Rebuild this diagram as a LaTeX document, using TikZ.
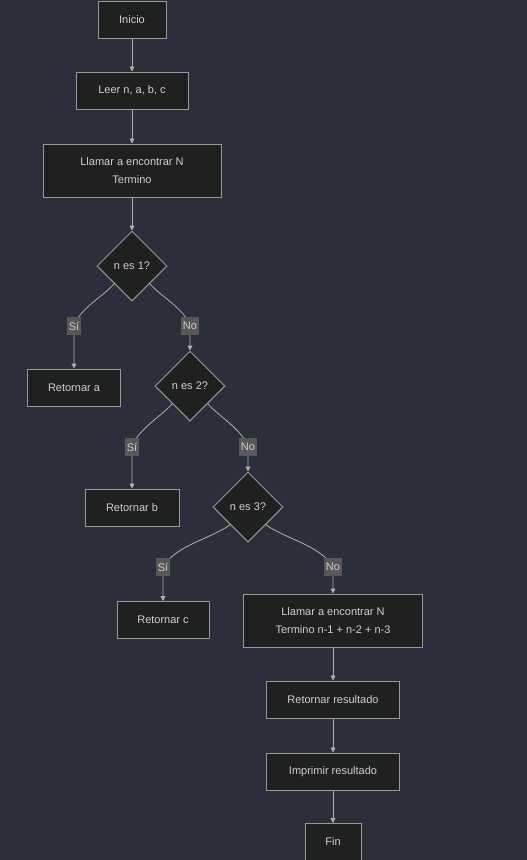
\documentclass[tikz,border=0pt]{standalone}
\usepackage{fontspec}
\setmainfont{Liberation Sans}
\usepackage{xcolor}
\usetikzlibrary{arrows.meta}
\usetikzlibrary{shapes.geometric}

\definecolor{fondo}{HTML}{2A2F3B}
\definecolor{relleno}{HTML}{1F2020}
\definecolor{borde}{HTML}{9A9A9A}
\definecolor{letra}{HTML}{D0D0D0}
\definecolor{linea}{HTML}{B0B0B0}
\definecolor{etiq}{HTML}{585858}

\begin{document}
\begin{tikzpicture}[x=1pt,y=-1pt]

\tikzset{
    caja/.style = {
    draw=borde, line width=1pt, fill=relleno, text=letra,
    minimum height=37pt, inner sep=0pt, align=center,
    font=\fontsize{11}{18}\selectfont
    }
}

\tikzstyle{decision}=[caja, diamond, minimum width=70pt, minimum height=70pt]
\tikzstyle{etiqueta}=[fill=etiq, text=letra, inner xsep=1.5pt, inner ysep=0pt, minimum height=18pt, font=\fontsize{11}{13}\selectfont]
\tikzstyle{flecha}=[draw=linea, line width=0.8pt, -{Triangle[length=5pt,width=5pt]}]

\fill[fondo] (0,0) rectangle (527,860);
\useasboundingbox (0,0) rectangle (527,860);

\node (inicio) [caja, minimum width=68pt] at (132,19.5) {Inicio};
\node (leer) [caja, minimum width=112pt] at (132,90.5) {Leer n, a, b, c};
\node (llamar1) [caja, minimum width=178pt, minimum height=53pt] at (132,170.5) {Llamar a encontrar N\\Termino};

\node (d1) [decision] at (132,266) {n es 1?};
\node (reta) [caja, minimum width=93pt] at (74,387.5) {Retornar a};
\node (d2) [decision] at (190,386) {n es 2?};
\node (retb) [caja, minimum width=94pt] at (132,507.5) {Retornar b};
\node (d3) [decision] at (248,507) {n es 3?};
\node (retc) [caja, minimum width=92pt] at (163,620) {Retornar c};
\node (llamar2) [caja, minimum width=179pt, minimum height=53pt] at (333,620.5) {Llamar a encontrar N\\Termino n-1 + n-2 + n-3};
\node (retres) [caja, minimum width=133pt] at (333,699.5) {Retornar resultado};
\node (imprimir) [caja, minimum width=133pt] at (333,771.5) {Imprimir resultado};
\node (fin) [caja, minimum width=56pt] at (333,842) {Fin};

\coordinate (si1) at (74,326);
\coordinate (no1) at (190,326);
\coordinate (si2) at (132,447);
\coordinate (no2) at (248,447);
\coordinate (si3) at (163,567);
\coordinate (no3) at (333,567);

\draw[flecha] (inicio) -- (leer);
\draw[flecha] (leer) -- (llamar1);
\draw[flecha] (llamar1) -- (d1);

\draw[flecha] (d1.south west) to[out=-132, in=72, looseness=0.8] (si1) -- (reta);
\draw[flecha] (d1.south east) to[out=-48, in=108, looseness=0.8] (no1) -- (d2);
\draw[flecha] (d2.south west) to[out=-132, in=72, looseness=0.8] (si2) -- (retb);
\draw[flecha] (d2.south east) to[out=-48, in=108, looseness=0.8] (no2) -- (d3);
\draw[flecha] (d3.south west) to[out=-145, in=60, looseness=0.8] (si3) -- (retc);
\draw[flecha] (d3.south east) to[out=-35, in=120, looseness=0.8] (no3) -- (llamar2);

\draw[flecha] (llamar2) -- (retres);
\draw[flecha] (retres) -- (imprimir);
\draw[flecha] (imprimir) -- (fin);

\node[etiqueta] at (si1) {Sí};
\node[etiqueta] at (no1) {No};
\node[etiqueta] at (si2) {Sí};
\node[etiqueta] at (no2) {No};
\node[etiqueta] at (si3) {Sí};
\node[etiqueta] at (no3) {No};

\end{tikzpicture}
\end{document}
